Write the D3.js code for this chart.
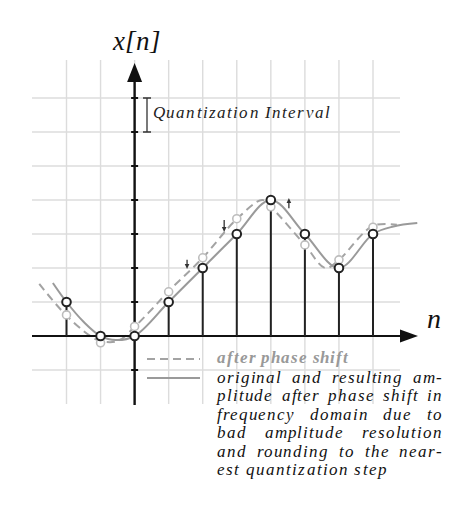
<!DOCTYPE html>
<html><head><meta charset="utf-8">
<script src="https://cdn.jsdelivr.net/npm/d3@7"></script>
<style>
@font-face{font-family:"CMI";src:local("Liberation Serif Italic"),local("LiberationSerif-Italic");font-style:italic;font-weight:400;}
@font-face{font-family:"CMI";src:local("Liberation Serif Bold Italic"),local("LiberationSerif-BoldItalic");font-style:italic;font-weight:700;}
html,body{margin:0;padding:0;background:#fff;}svg{display:block;}
svg text.t{font-family:"CMI","Liberation Serif","Times New Roman","DejaVu Serif",serif !important;font-style:italic;}
</style>
</head><body>
<svg id="c" width="474" height="505"></svg>
<script>
// ---- data ----
const samplesN = [-2, -1, 0, 1, 2, 3, 4, 5, 6, 7];
const quantizedValues = [1, 0, 0, 1, 2, 3, 4, 3, 2, 3];
const shiftedValues = [0.62, -0.2, 0.28, 1.3, 2.3, 3.45, 3.8, 2.68, 2.24, 3.2];
const solidCurveN = [-2.4, -2, -1.5, -1, -0.55, 0, 1, 2, 3, 4, 5, 6, 7, 7.6, 8.3];
const solidCurveV = [1.56, 1, 0.42, 0, -0.12, 0, 1, 2, 3, 4, 3, 2, 3, 3.22, 3.32];
const dashCurveN = [-2.8, -2.05, -1.3, -1, -0.5, 0, 0.5, 1, 2, 3, 3.75, 4, 5, 5.6, 6, 7, 7.7];
const dashCurveV = [1.53, 0.65, 0.0, -0.15, -0.15, 0.27, 0.78, 1.32, 2.3, 3.44, 4.0, 3.8, 2.68, 2.0, 2.24, 3.24, 3.27];
const arrowN = [1.54, 2.63, 4.53];
const arrowFrom = [2.24, 3.41, 3.76];
const arrowTo = [1.97, 3.06, 4.06];
const gridLevels = [-1, 0, 1, 2, 3, 4, 5, 6, 7];
const yLabel = "x[n]";
const xLabel = "n";
const intervalLabel = "Quantization Interval";
const legendDashed = "after phase shift";
const legendSolidLines = [
  "original and resulting am-",
  "plitude after phase shift in",
  "frequency domain due to",
  "bad amplitude resolution",
  "and rounding to the near-",
  "est quantization step"
];

// ---- scales ----
const x = d3.scaleLinear().domain([-2, 7]).range([66.5, 373]);
const y = d3.scaleLinear().domain([0, 7]).range([336, 98]);
const svg = d3.select("#c");

// grid
const g = svg.append("g");
g.selectAll(".vg").data(samplesN).join("line")
  .attr("x1", d => x(d)).attr("x2", d => x(d))
  .attr("y1", 60).attr("y2", 404)
  .attr("stroke", "#dcdcdc").attr("stroke-width", 1.4);
g.selectAll(".hg").data(gridLevels).join("line")
  .attr("x1", 32).attr("x2", 400)
  .attr("y1", d => y(d)).attr("y2", d => y(d))
  .attr("stroke", "#dcdcdc").attr("stroke-width", 1.4);

// curves
const toPts = (ns, vs) => ns.map((n, i) => [x(n), y(vs[i])]);
const line = d3.line().curve(d3.curveCatmullRom.alpha(0.5));
svg.append("path").attr("d", line(toPts(dashCurveN, dashCurveV)))
  .attr("fill", "none").attr("stroke", "#a3a3a3").attr("stroke-width", 2)
  .attr("stroke-dasharray", "8,5");
svg.append("path").attr("d", line(toPts(solidCurveN, solidCurveV)))
  .attr("fill", "none").attr("stroke", "#9a9a9a").attr("stroke-width", 2);

// axes
const x0 = x(0), y0 = y(0);
svg.append("line").attr("x1", 32).attr("x2", 400).attr("y1", y0).attr("y2", y0)
  .attr("stroke", "#111").attr("stroke-width", 2.2);
svg.append("path").attr("d", `M400,${y0-6.5}L418,${y0}L400,${y0+6.5}Z`).attr("fill", "#111");
svg.append("line").attr("x1", x0).attr("x2", x0).attr("y1", 405).attr("y2", 80)
  .attr("stroke", "#111").attr("stroke-width", 2.4);
svg.append("path").attr("d", `M${x0-7.5},82L${x0},63L${x0+7.5},82Z`).attr("fill", "#111");
svg.selectAll(".yt").data(gridLevels).join("line")
  .attr("x1", x0 - 3.5).attr("x2", x0 + 3.5)
  .attr("y1", d => y(d)).attr("y2", d => y(d))
  .attr("stroke", "#111").attr("stroke-width", 2);

// stems
svg.selectAll(".stem").data(samplesN).join("line")
  .attr("x1", d => x(d)).attr("x2", d => x(d))
  .attr("y1", y0).attr("y2", (d, i) => y(quantizedValues[i]))
  .attr("stroke", "#222").attr("stroke-width", 2);

// shifted (light) circles
svg.selectAll(".lc").data(samplesN).join("circle")
  .attr("cx", d => x(d)).attr("cy", (d, i) => y(shiftedValues[i])).attr("r", 4)
  .attr("fill", "#fff").attr("stroke", "#bdbdbd").attr("stroke-width", 1.6);
// quantized circles
svg.selectAll(".qc").data(samplesN).join("circle")
  .attr("cx", d => x(d)).attr("cy", (d, i) => y(quantizedValues[i])).attr("r", 4.3)
  .attr("fill", "#fff").attr("stroke", "#222").attr("stroke-width", 2);

// small arrows
arrowN.forEach((n, i) => {
  const ax = x(n), ya = y(arrowFrom[i]), yb = y(arrowTo[i]);
  const dir = yb > ya ? 1 : -1;
  svg.append("line").attr("x1", ax).attr("x2", ax).attr("y1", ya).attr("y2", yb - dir * 3)
    .attr("stroke", "#333").attr("stroke-width", 1.3);
  svg.append("path").attr("d", `M${ax-2.3},${yb-dir*5}L${ax},${yb}L${ax+2.3},${yb-dir*5}Z`).attr("fill", "#333");
});

function txt(xp, yp, s, size, color, weight) {
  return svg.append("text").attr("class", "t").attr("x", xp).attr("y", yp).text(s)
    .attr("font-size", size).attr("font-weight", weight || 400).attr("fill", color);
}
const texts = [];
function fitLetters(t, target) { texts.push({t, target, mode: "l"}); }
function justify(t, target, ls) { texts.push({t, target, mode: "w", ls}); }
function applyFits() {
  texts.forEach(({t, target, mode, ls}) => {
    const node = t.node();
    node.style.letterSpacing = (mode === "w" ? ls : 0) + "px";
    node.style.wordSpacing = "0px";
    const w = node.getComputedTextLength();
    if (mode === "l") {
      node.style.letterSpacing = ((target - w) / t.text().length) + "px";
    } else {
      const spaces = (t.text().match(/ /g) || []).length;
      if (spaces > 0) node.style.wordSpacing = ((target - w) / spaces) + "px";
    }
  });
}

// axis labels
txt(113, 50, yLabel, 27, "#111");
txt(427, 328, xLabel, 28, "#111");

// quantization interval bracket
const bx = 147;
svg.append("path").attr("d", `M${bx-4},${y(7)}H${bx+4}M${bx},${y(7)}V${y(6)}M${bx-4},${y(6)}H${bx+4}`)
  .attr("stroke", "#333").attr("stroke-width", 1.3).attr("fill", "none");
fitLetters(txt(153, 118, intervalLabel, 17, "#222"), 178);

// legend
svg.append("line").attr("x1", 147).attr("x2", 200).attr("y1", 359).attr("y2", 359)
  .attr("stroke", "#a3a3a3").attr("stroke-width", 2).attr("stroke-dasharray", "8,5");
svg.append("line").attr("x1", 147).attr("x2", 200).attr("y1", 378).attr("y2", 378)
  .attr("stroke", "#9a9a9a").attr("stroke-width", 2);
fitLetters(txt(217, 363, legendDashed, 17, "#999", 700), 132);
legendSolidLines.forEach((s, i) => {
  const t = txt(217, 383 + i * 18.4, s, 17, "#111");
  const last = i === legendSolidLines.length - 1;
  if (last) fitLetters(t, 171);
  else justify(t, 226, 0.9);
});
applyFits();
if (document.fonts && document.fonts.ready) document.fonts.ready.then(applyFits);
</script>
</body></html>
